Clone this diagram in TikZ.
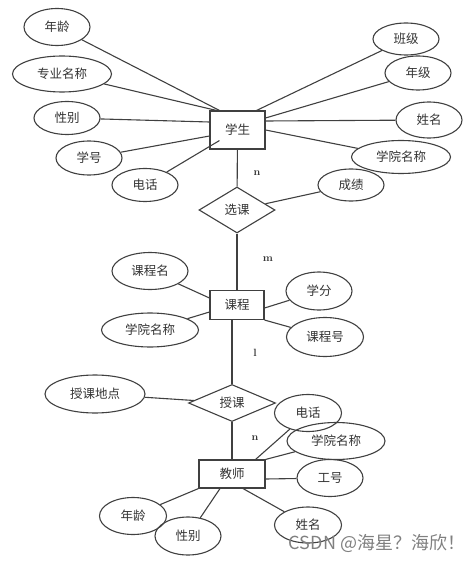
\documentclass[tikz,border=0pt]{standalone}
\usepackage{fontspec}
\newfontfamily\cjkfont{Noto Sans CJK SC}
\usetikzlibrary{shapes.geometric}
\usetikzlibrary{calc}
\begin{document}
\begin{tikzpicture}[x=1pt,y=-1pt,line width=1.1pt,
    every node/.style={font=\cjkfont\fontsize{12.5}{15}\selectfont,text=black!80},
    ent/.style={draw=black!75,rectangle,minimum width=55pt,minimum height=38pt,inner sep=0pt},
    attr/.style={draw=black!75,ellipse,minimum width=66pt,minimum height=35pt,inner sep=0pt},
    rel/.style={draw=black!75,diamond,inner sep=0pt},
    card/.style={font=\bfseries\fontsize{10.5}{12}\selectfont,inner sep=0pt},
    conn/.style={draw=black!75,line width=1.1pt}]
  \useasboundingbox (0,0) rectangle (474,561);

  \node[ent] (stu) at (237.5,130) {学生};
  \node[attr,minimum height=37pt] (nianling) at (57,27) {年龄};
  \node[attr,minimum width=99pt,minimum height=36pt] (zhuanye) at (62,74) {专业名称};
  \node[attr,minimum height=33pt] (xingbie) at (67,118) {性别};
  \node[attr,minimum height=34pt] (xuehao) at (89,158) {学号};
  \node[attr,minimum height=33pt] (dianhua) at (145,185) {电话};
  \node[attr,minimum height=32pt] (banji) at (406,39) {班级};
  \node[attr,minimum height=34pt] (nianji) at (418,73) {年级};
  \node[attr,minimum height=36pt] (xingming) at (429,120) {姓名};
  \node[attr,minimum width=99pt,minimum height=33pt] (xueyuan) at (401,157) {学院名称};
  \node[attr,minimum height=32pt] (chengji) at (351,185) {成绩};
  \node[rel,minimum width=76pt,minimum height=46pt] (xk) at (237,210) {选课};

  \node[ent,minimum width=54pt,minimum height=29pt] (kc) at (237,305) {课程};
  \node[attr,minimum width=76pt,minimum height=37pt] (kcm) at (150,271) {课程名};
  \node[attr,minimum width=97pt,minimum height=34pt] (kcxy) at (150,330) {学院名称};
  \node[attr,minimum height=38pt] (xuefen) at (319,291) {学分};
  \node[attr,minimum width=77pt,minimum height=39pt] (kch) at (325,337) {课程号};
  \node[rel,minimum width=87pt,minimum height=37pt] (sk) at (232,403) {授课};
  \node[attr,minimum width=100pt,minimum height=38pt] (skdd) at (95,394) {授课地点};

  \node[ent,minimum width=66pt,minimum height=28pt] (js) at (232,474) {教师};
  \node[attr,minimum width=67pt,minimum height=37pt] (jsdh) at (308,413) {电话};
  \node[attr,minimum width=98pt,minimum height=37pt] (jsxy) at (336,441) {学院名称};
  \node[attr,minimum height=37pt] (gonghao) at (330,478) {工号};
  \node[attr,minimum width=67pt,minimum height=36pt] (jsxm) at (308,525) {姓名};
  \node[attr,minimum width=67pt,minimum height=37pt] (jsnl) at (133,516) {年龄};
  \node[attr,minimum height=38pt] (jsxb) at (188,536) {性别};

  \node[card] (c1) at (257,173) {n};
  \node[card] (c2) at (268,259) {m};
  \node[card] (c3) at (255,353) {l};
  \node[card] (c4) at (255,438) {n};

  \path[conn] (nianling) edge ([xshift=10pt]stu.north west);
  \path[conn] (zhuanye) edge ([xshift=7pt]stu.north west);
  \path[conn] (xingbie) edge ([yshift=8pt]stu.west);
  \path[conn] (xuehao) edge ([yshift=-6pt]stu.west);
  \path[conn] (dianhua) edge ([xshift=10pt,yshift=9pt]stu.south west);
  \path[conn] (banji) edge ([xshift=-9pt]stu.north east);
  \path[conn] (nianji) edge ([yshift=12pt]stu.east);
  \path[conn] (xingming) edge ([yshift=9pt]stu.east);
  \path[conn] (xueyuan) edge (stu.east);
  \path[conn] (stu) edge (xk);
  \path[conn] (chengji) edge (xk);
  \path[conn] (xk) edge (kc);

  \path[conn] (kcm) edge ([yshift=7pt]kc.west);
  \path[conn] (kcxy) edge ([yshift=-7pt]kc.west);
  \path[conn] (xuefen) edge ([yshift=-3pt]kc.east);
  \path[conn] (kch) edge (kc.south east);
  \path[conn] (sk.north |- kc.south) edge (sk.north);
  \path[conn] (skdd) edge (sk);
  \path[conn] (sk) edge (js);

  \path[conn] (jsdh) edge ([xshift=-10pt]js.north east);
  \path[conn] (jsxy) edge (js.north east);
  \path[conn] (gonghao) edge ([yshift=-5pt]js.east);
  \path[conn] (jsxm) edge ([xshift=11pt]js.south);
  \path[conn] (jsnl) edge (js.south west);
  \path[conn] (jsxb) edge ([xshift=-12pt]js.south);

  \node[font=\cjkfont\fontsize{18}{20}\selectfont,text=black!50] (wm) at (377,543) {CSDN @海星？海欣！};
\end{tikzpicture}
\end{document}
